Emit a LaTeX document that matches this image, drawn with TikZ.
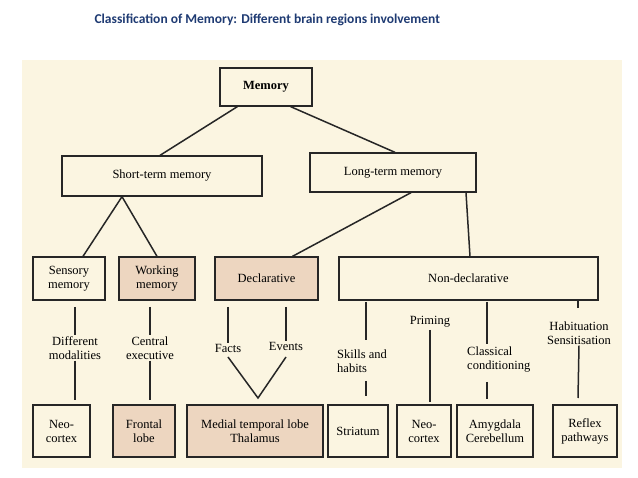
\documentclass[tikz,border=0pt]{standalone}
\usepackage{fontspec}
\setmainfont{Liberation Serif}
\newfontfamily\titlefont{Carlito}
\begin{document}
\begin{tikzpicture}[x=1pt,y=-1pt,
  bx/.style={draw=black!85,line width=1.3pt,fill=bg,align=center,font=\fontsize{12.5}{14}\selectfont,inner sep=0pt},
  sh/.style={bx,fill=tan1},
  lbl/.style={align=center,font=\fontsize{12.5}{14}\selectfont,inner sep=1pt},
  ln/.style={line width=1.5pt,draw=black!85}]
\definecolor{bg}{HTML}{FBF5E1}
\definecolor{tan1}{HTML}{EDD6C0}
\definecolor{ttl}{HTML}{1F3B73}
\useasboundingbox (0,0) rectangle (638,478);
\fill[white] (0,0) rectangle (638,478);
\fill[bg] (22,60) rectangle (622,468);
\node[anchor=west,font=\titlefont\bfseries\fontsize{13.5}{15}\selectfont,text=ttl] (title) at (91,20) {Classification of Memory: Different brain regions involvement};
\node[bx,minimum width=92,minimum height=38,font=\fontsize{12.5}{14}\selectfont\bfseries] (mem) at (266,87) {Memory};
\node[bx,minimum width=200,minimum height=40] (st) at (162,176) {Short-term memory};
\node[bx,minimum width=166,minimum height=39] (lt) at (393,172.5) {Long-term memory};
\node[bx,minimum width=72,minimum height=43] (sen) at (69,278.5) {Sensory\\memory};
\node[sh,minimum width=76,minimum height=43] (wm) at (157,278.5) {Working\\memory};
\node[sh,minimum width=103,minimum height=43] (dec) at (266.5,278.5) {Declarative};
\node[bx,minimum width=259,minimum height=43] (nd) at (468.5,278.5) {Non-declarative};
\node[bx,minimum width=57,minimum height=52] (nc1) at (61.5,431) {Neo-\\cortex};
\node[sh,minimum width=62,minimum height=52] (fl) at (144,431) {Frontal\\lobe};
\node[sh,minimum width=136,minimum height=52] (mtl) at (255,431) {Medial temporal lobe\\Thalamus};
\node[bx,minimum width=60,minimum height=52] (str) at (358,431) {Striatum};
\node[bx,minimum width=54,minimum height=52] (nc2) at (424,431) {Neo-\\cortex};
\node[bx,minimum width=76,minimum height=52] (amy) at (495,431) {Amygdala\\Cerebellum};
\node[bx,minimum width=64,minimum height=52] (ref) at (585,431) {Reflex\\pathways};
% top connectors
\draw[ln] (mem.south west)++(18,0) -- ([xshift=-2pt]st.north);
\draw[ln] (mem.south east)++(-22,0) -- ([xshift=2pt]lt.north);
\draw[ln] ([xshift=-40pt]st.south) -- ([xshift=14pt]sen.north);
\draw[ln] ([xshift=-40pt]st.south) -- ([xshift=0pt]wm.north);
\draw[ln] ([xshift=18pt]lt.south) -- ([xshift=26pt]dec.north);
\draw[ln] ([xshift=73pt]lt.south) -- ([xshift=1.5pt]nd.north);
% labels
\node[lbl] (dm) at (75,348) {Different\\modalities};
\node[lbl] (ce) at (150,348) {Central\\executive};
\node[lbl] (fa) at (228,348) {Facts};
\node[lbl] (ev) at (286,346) {Events};
\node[lbl,align=left,anchor=west] (sk) at (336,361) {Skills and\\habits};
\node[lbl] (pr) at (430,322) {Priming};
\node[lbl,align=left,anchor=west] (cc) at (466,360) {Classical\\conditioning};
\node[lbl] (hs) at (579,333) {Habituation\\Sensitisation};
\draw[ln] (75,307) -- (dm.north);  \draw[ln] (dm.south) -- (75,400);
\draw[ln] (150,307) -- (ce.north); \draw[ln] (ce.south) -- (150,400);
\draw[ln] (228,307) -- (fa.north); \draw[ln] (286,307) -- (ev.north);
\coordinate (vt) at (258,398);
\draw[ln] (228,357) -- (vt) -- (286,357);
\draw[ln] (366,302) -- (366,340); \draw[ln] (366,381) -- (366,396);
\draw[ln] (430,330) -- (430,402);
\draw[ln] (487,302) -- (487,344); \draw[ln] (487,382) -- (487,399);
\draw[ln] (578,301) -- (578,308); \draw[ln] (hs.south) -- (578,398);
\end{tikzpicture}
\end{document}
